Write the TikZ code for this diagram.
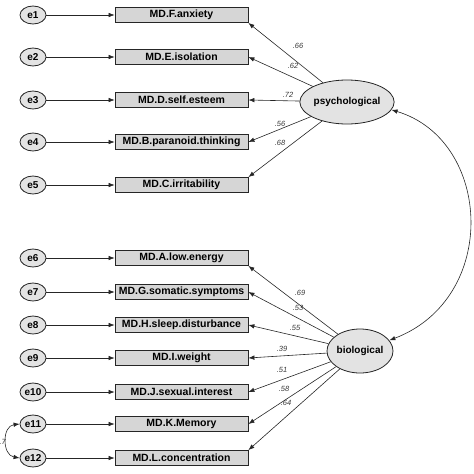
\documentclass[tikz,border=0pt]{standalone}
\usepackage{fontspec}
\setmainfont{Liberation Sans}
\usetikzlibrary{arrows.meta,shapes.geometric}
\definecolor{boxGray}{HTML}{D6D6D6}
\definecolor{ovalGray}{HTML}{E3E3E3}
\definecolor{lineGray}{HTML}{262626}
\definecolor{coefGray}{HTML}{3A3A3A}

\begin{document}
\begin{tikzpicture}[
    x=1pt, y=-1pt,
    err/.style={ellipse, draw=lineGray, thick, fill=ovalGray, minimum width=26pt, minimum height=18pt, inner sep=0pt, font=\fontsize{10}{11}\selectfont\bfseries},
    obs/.style={rectangle, draw=lineGray, thick, fill=boxGray, minimum width=133pt, minimum height=15pt, inner sep=0pt, font=\fontsize{10.5}{11}\selectfont\bfseries},
    lat/.style={ellipse, draw=lineGray, thick, fill=ovalGray, minimum width=66pt, minimum height=44pt, inner sep=0pt, font=\fontsize{10}{11}\selectfont\bfseries},
    coef/.style={font=\fontsize{7.5}{8}\selectfont\itshape, text=coefGray, inner sep=0pt},
    arr/.style={-{Latex[length=6pt,width=4.5pt]}, semithick, lineGray},
    dbl/.style={{Latex[length=6pt,width=4.5pt]}-{Latex[length=6pt,width=4.5pt]}, semithick, lineGray}
]
\useasboundingbox (0,0) rectangle (474,474);

% Error terms and indicators.
\foreach \i/\y/\txt in {1/15/MD.F.anxiety, 2/57/MD.E.isolation, 3/100/MD.D.self.esteem,
    4/142/MD.B.paranoid.thinking, 5/185/MD.C.irritability, 6/258/MD.A.low.energy,
    7/292/MD.G.somatic.symptoms, 8/325/MD.H.sleep.disturbance, 9/358/MD.I.weight,
    10/392/MD.J.sexual.interest, 11/424/MD.K.Memory, 12/458/MD.L.concentration}{
    \node[err] (e\i) at (33,\y) {e\i};
    \node[obs] (m\i) at (181.5,\y) {\txt};
    \draw[arr] (e\i) -- (m\i);
}

% Latent factors.
\node[lat] (psy) at (347,102) {psychological};
\node[lat] (bio) at (360,351) {biological};

% Loadings.
\foreach \i/\anc/\v/\lx/\ly in {1/south east/.66/298/46, 2/east/.62/293/66, 3/east/.72/288/95,
    4/east/.56/280/124, 5/north east/.68/280/143}{
    \draw[arr] (psy) -- (m\i.\anc);
    \node[coef] (c\i) at (\lx,\ly) {\v};
}
\foreach \i/\anc/\v/\lx/\ly in {6/south east/.69/300/293, 7/east/.53/298/308, 8/east/.55/295/328,
    9/east/.39/282/349, 10/east/.51/282/370, 11/east/.58/284/389, 12/north east/.64/286/403}{
    \draw[arr] (bio) -- (m\i.\anc);
    \node[coef] (c\i) at (\lx,\ly) {\v};
}

% Covariances.
\draw[dbl] (psy.-10) .. controls (492,140) and (500,298) .. (bio.20);
\draw[dbl] (e11.west) .. controls (2,426) and (2,455) .. (e12.west);
\node[coef, anchor=east] (c13) at (6,442) {.7};
\end{tikzpicture}
\end{document}
